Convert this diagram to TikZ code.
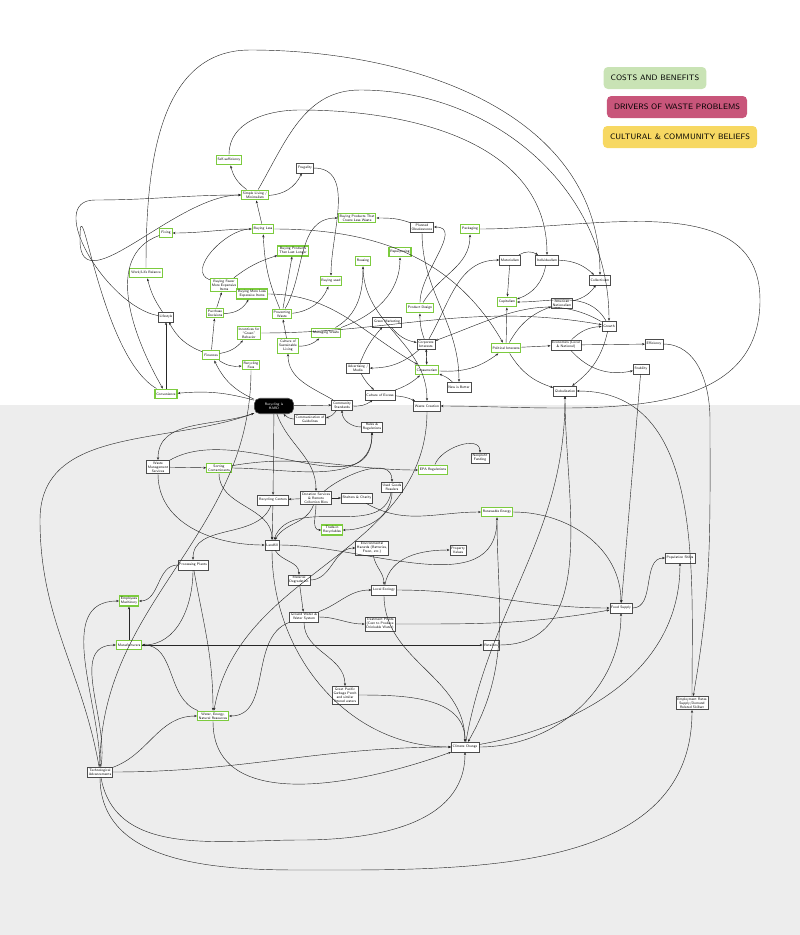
\documentclass[tikz,border=0pt]{standalone}
\usetikzlibrary{positioning, arrows.meta}
\definecolor{leafgreen}{HTML}{7CCB3E}
\definecolor{costfill}{HTML}{C9E3B5}
\definecolor{drivefill}{HTML}{C8557A}
\definecolor{beliefill}{HTML}{F7D862}
\definecolor{backgray}{HTML}{EDEDED}
\tikzset{
  box/.style={draw=black!70, fill=white, line width=0.4pt, inner sep=1pt, minimum height=7pt, align=center, font=\sffamily\fontsize{2.5}{2.9}\selectfont},
  greenbox/.style={box, draw=leafgreen, line width=0.8pt},
  legend/.style={rounded corners=3pt, inner xsep=5pt, minimum height=0.55cm, font=\sffamily\fontsize{5.6}{6}\selectfont},
  link/.style={-{Stealth[length=2pt,width=1.6pt]}, line width=0.3pt, black!85}
}
\begin{document}
\begin{tikzpicture}[x=0.025cm, y=-0.025cm]
  \useasboundingbox (0,0) rectangle (800,935);
  \fill[backgray] (0,405) rectangle (800,935);

  % legend
  \node[legend, fill=costfill] (costs) at (655,78) {COSTS AND BENEFITS};
  \node[legend, fill=drivefill] (drivers) at (677,107) {DRIVERS OF WASTE PROBLEMS};
  \node[legend, fill=beliefill] (beliefs) at (680,137) {CULTURAL \& COMMUNITY BELIEFS};

  % upper half
  \node[greenbox] (selfsuff) at (229,160) {Self-sufficiency};
  \node[box] (frugal) at (305,168) {Frugality};
  \node[greenbox] (simple) at (255,195) {Simple Living /\\Minimalism};
  \node[greenbox] (buyless) at (263,229) {Buying Less};
  \node[greenbox] (prodless) at (357,218) {Buying Products That\\Create Less Waste};
  \node[box] (planned) at (422,227) {Planned\\Obsolescence};
  \node[greenbox] (packaging) at (470,229) {Packaging};
  \node[greenbox] (fixing) at (166,233) {Fixing};
  \node[greenbox] (lastlonger) at (293,251) {Buying Products\\That Last Longer};
  \node[greenbox] (repurposing) at (400,252) {Repurposing};
  \node[box] (materialism) at (510,260) {Materialism};
  \node[box] (individualism) at (547,260) {Individualism};
  \node[greenbox] (reusing) at (363,261) {Reusing};
  \node[greenbox] (worklife) at (146,273) {Work/Life Balance};
  \node[box] (collectivism) at (600,280) {Collectivism};
  \node[greenbox] (buyused) at (331,281) {Buying used};
  \node[greenbox] (fewer) at (224,285) {Buying Fewer\\More Expensive\\Items};
  \node[greenbox] (moreless) at (252,294) {Buying More Less\\Expensive Items};
  \node[greenbox] (capitalism) at (507,302) {Capitalism};
  \node[box] (american) at (562,303) {American\\Nationalism};
  \node[greenbox] (purchase) at (215,313) {Purchase\\Decisions};
  \node[box] (lifestyle) at (166,317) {Lifestyle};
  \node[greenbox] (preventing) at (282,314) {Preventing\\Waste};
  \node[greenbox] (productdesign) at (420,308) {Product Design};
  \node[box] (greenmkt) at (387,322) {Green Marketing};
  \node[box] (growth) at (609,326) {Growth};
  \node[greenbox] (incentives) at (249,333) {Incentives for\\``Green''\\Behavior};
  \node[greenbox] (managing) at (326,333) {Managing Waste};
  \node[greenbox] (culture) at (288,346) {Culture of\\Sustainable\\Living};
  \node[box] (corporate) at (426,344) {Corporate\\Interests};
  \node[greenbox] (political) at (506,348) {Political Interests};
  \node[box] (economics) at (566,345) {Economics (Local\\\& National)};
  \node[box] (efficiency) at (654,344) {Efficiency};
  \node[greenbox] (finances) at (211,355) {Finances};
  \node[greenbox] (recfees) at (251,365) {Recycling\\Fees};
  \node[box] (advertising) at (358,368) {Advertising /\\Media};
  \node[greenbox] (consumerism) at (427,370) {Consumerism};
  \node[box] (stability) at (641,369) {Stability};
  \node[box] (newbetter) at (459,387) {New is Better};
  \node[box] (globalization) at (565,391) {Globalization};
  \node[greenbox] (convenience) at (166,394) {Convenience};
  \node[box] (excess) at (380,395) {Culture of Excess};
  \node[box, fill=black, text=white, rounded corners=4pt, minimum width=28pt, minimum height=11pt] (recycling) at (274,406) {Recycling is\\HARD};
  \node[box] (community) at (342,405) {Community\\Standards};
  \node[box] (wastecreation) at (427,406) {Waste Creation};
  \node[box] (communication) at (310,419) {Communication of\\Guidelines};

  % lower half
  \node[box] (rules) at (372,427) {Rules \&\\Regulations};
  \node[box] (nonprofit) at (480,458) {Nonprofit\\Funding};
  \node[box] (wms) at (158,467) {Waste\\Management\\Services};
  \node[greenbox] (sorting) at (219,468) {Sorting\\Contaminants};
  \node[greenbox] (epa) at (433,470) {EPA Regulations};
  \node[box] (usedgoods) at (392,487) {Used Goods\\Resalers};
  \node[box] (donation) at (316,498) {Donation Services\\\& Remote\\Collection Bins};
  \node[box] (shelters) at (357,498) {Shelters \& Charity};
  \node[box] (reccenters) at (273,500) {Recycling Centers};
  \node[greenbox] (renewable) at (497,512) {Renewable Energy};
  \node[greenbox] (tradein) at (332,530) {Trade-in\\Recyclables};
  \node[box] (landfill) at (272,545) {Landfill};
  \node[box] (hazards) at (372,548) {Environmental\\Hazards (Batteries,\\Freon, etc.)};
  \node[box] (property) at (458,550) {Property\\Values};
  \node[box] (processing) at (193,565) {Processing Plants};
  \node[box] (popshifts) at (680,558) {Population Shifts};
  \node[box] (degradation) at (299,580) {Material\\Degradation};
  \node[box] (localecology) at (384,590) {Local Ecology};
  \node[greenbox] (employees) at (129,601) {Employees\\Machinery};
  \node[box] (foodsupply) at (621,608) {Food Supply};
  \node[box] (groundwater) at (304,617) {Ground Water \&\\Water System};
  \node[box] (treatment) at (380,624) {Treatment Plants\\(Cost to Produce\\Drinkable Water)};
  \node[greenbox] (manufacturers) at (129,645) {Manufacturers};
  \node[box] (retailers) at (491,645) {Retailers};
  \node[box] (pacific) at (345,695) {Great Pacific\\Garbage Patch\\and similar\\littered waters};
  \node[box] (employment) at (692,703) {Employment Rates\\Supply/Demand\\Related Skillset};
  \node[greenbox] (resources) at (213,716) {Water, Energy,\\Natural Resources};
  \node[box] (climate) at (465,747) {Climate Change};
  \node[box] (tech) at (100,772) {Technological\\Advancements};

  % upper links
  \draw[link] (simple) to[bend left=20] (selfsuff);
  \draw[link] (simple) to[bend right=30] (frugal);
  \draw[link] (buyless) -- (simple);
  \draw[link] (preventing) to[bend left=10] (buyless);
  \draw[link] (preventing) -- (lastlonger);
  \draw[link] (preventing) to[bend right=30] (buyused);
  \draw[link] (preventing) to[out=60, in=180] (prodless);
  \draw[link] (fewer) to[bend left=10] (lastlonger);
  \draw[link] (fewer) to[out=160, in=180] (buyless);
  \draw[link] (purchase) -- (fewer);
  \draw[link] (purchase) to[bend right=30] (moreless);
  \draw[link] (lifestyle) to[bend left=10] (worklife);
  \draw[link] (convenience) -- (lifestyle);
  \draw[link] (finances) to[bend left=20] (lifestyle);
  \draw[link] (finances) -- (purchase);
  \draw[link] (finances) to[bend right=20] (incentives);
  \draw[link] (finances) to[bend right=20] (recfees);
  \draw[link] (recycling) to[bend left=20] (finances);
  \draw[link] (recycling) to[bend right=10] (convenience);
  \draw[link] (buyless) to[out=180, in=0] (fixing);
  \draw[link] (fixing) to[out=200, in=120] (convenience);
  \draw[link] (managing) to[out=30, in=270] (reusing);
  \draw[link] (managing) to[out=20, in=270] (repurposing);
  \draw[link] (culture) to[bend right=20] (managing);
  \draw[link] (culture) -- (preventing);
  \draw[link] (community) to[out=150, in=270] (culture);
  \draw[link] (recycling) -- (community);
  \draw[link] (community) to[bend left=20] (communication);
  \draw[link] (communication) to[bend left=20] (recycling);
  \draw[link] (community) to[bend right=20] (excess);
  \draw[link] (excess) to[bend right=10] (consumerism);
  \draw[link] (excess) to[bend left=10] (wastecreation);
  \draw[link] (advertising) to[bend right=10] (excess);
  \draw[link] (advertising) to[bend left=10] (greenmkt);
  \draw[link] (corporate) to[bend left=20] (advertising);
  \draw[link] (corporate) to[bend left=10] (productdesign);
  \draw[link] (corporate) -- (consumerism);
  \draw[link] (consumerism) -- (corporate);
  \draw[link] (greenmkt) to[bend right=20] (corporate);
  \draw[link] (productdesign) to[out=90, in=0] (planned);
  \draw[link] (productdesign) to[out=60, in=270] (packaging);
  \draw[link] (planned) to[out=160, in=0] (prodless);
  \draw[link] (planned) to[out=270, in=90] (newbetter);
  \draw[link] (consumerism) to[bend right=20] (political);
  \draw[link] (newbetter) to[bend right=10] (consumerism);
  \draw[link] (corporate) to[out=60, in=180] (materialism);
  \draw[link] (political) -- (capitalism);
  \draw[link] (materialism) -- (capitalism);
  \draw[link] (individualism) to[bend left=30] (capitalism);
  \draw[link] (materialism) to[bend left=30] (individualism);
  \draw[link] (individualism) to[bend left=20] (collectivism);
  \draw[link] (american) to[bend right=20] (collectivism);
  \draw[link] (political) to[bend left=20] (american);
  \draw[link] (political) -- (economics);
  \draw[link] (economics) to[bend left=20] (growth);
  \draw[link] (economics) -- (efficiency);
  \draw[link] (economics) to[bend right=30] (stability);
  \draw[link] (political) to[bend right=20] (globalization);
  \draw[link] (growth) to[bend left=20] (globalization);
  \draw[link] (growth) to[out=150, in=20] (corporate);
  \draw[link] (growth) to[out=120, in=0] (capitalism);
  \draw[link] (reusing) to[out=270, in=90] (wastecreation);
  \draw[link] (moreless) to[out=0, in=150] (consumerism);
  \draw[link] (buyless) to[out=0, in=120] (political);
  \draw[link] (incentives) to[out=0, in=170] (growth);

  % big loops
  \draw[link] (convenience) to[out=150, in=90] (80,240) to[out=270, in=180] (simple);
  \draw[link] (lifestyle) to[out=170, in=180] (95,200) to[out=0, in=180] (simple);
  \draw[link] (worklife) to[out=90, in=180] (250,50) to[out=0, in=90] (collectivism);
  \draw[link] (selfsuff) to[out=90, in=180] (300,110) to[out=0, in=90] (individualism);
  \draw[link] (simple) to[out=60, in=180] (360,90) to[out=0, in=90] (growth);
  \draw[link] (frugal) to[out=0, in=90] (buyused);
  \draw[link] (packaging) to[out=0, in=90] (760,300) to[out=270, in=0] (wastecreation);

  % lower links
  \draw[link] (recycling) to[out=200, in=90] (wms);
  \draw[link] (recycling) -- (reccenters);
  \draw[link] (recycling) to[out=290, in=90] (donation);
  \draw[link] (wms) -- (sorting);
  \draw[link] (sorting) to[out=270, in=90] (landfill);
  \draw[link] (wms) to[out=270, in=180] (landfill);
  \draw[link] (wms) to[out=30, in=270] (rules);
  \draw[link] (sorting) to[out=0, in=270] (rules);
  \draw[link] (sorting) to[out=10, in=180] (epa);
  \draw[link] (epa) to[out=70, in=90] (nonprofit);
  \draw[link] (rules) to[out=180, in=270] (community);
  \draw[link] (donation) -- (reccenters);
  \draw[link] (donation) -- (shelters);
  \draw[link] (donation) to[out=270, in=180] (tradein);
  \draw[link] (donation) to[out=250, in=60] (landfill);
  \draw[link] (donation) to[out=40, in=90] (usedgoods);
  \draw[link] (usedgoods) to[out=270, in=0] (tradein);
  \draw[link] (usedgoods) to[out=260, in=70] (landfill);
  \draw[link] (shelters) to[out=330, in=180] (renewable);
  \draw[link] (reccenters) -- (landfill);
  \draw[link] (reccenters) to[out=250, in=90] (processing);
  \draw[link] (landfill) to[out=300, in=90] (degradation);
  \draw[link] (landfill) to[out=0, in=270] (renewable);
  \draw[link] (degradation) to[out=0, in=180] (hazards);
  \draw[link] (hazards) to[out=280, in=90] (localecology);
  \draw[link] (degradation) -- (groundwater);
  \draw[link] (groundwater) to[out=20, in=180] (localecology);
  \draw[link] (groundwater) to[out=0, in=180] (treatment);
  \draw[link] (groundwater) to[out=270, in=90] (pacific);
  \draw[link] (groundwater) to[out=200, in=0] (resources);
  \draw[link] (localecology) to[out=80, in=180] (property);
  \draw[link] (localecology) to[out=0, in=180] (foodsupply);
  \draw[link] (localecology) to[out=270, in=90] (climate);
  \draw[link] (treatment) to[out=0, in=190] (foodsupply);
  \draw[link] (manufacturers) -- (retailers);
  \draw[link] (retailers) to[out=0, in=270] (globalization);
  \draw[link] (processing) to[out=180, in=0] (employees);
  \draw[link] (processing) to[out=270, in=0] (manufacturers);
  \draw[link] (processing) to[out=280, in=90] (resources);
  \draw[link] (manufacturers) -- (employees);
  \draw[link] (resources) to[out=160, in=0] (manufacturers);
  \draw[link] (tech) to[out=90, in=180] (employees);
  \draw[link] (tech) to[out=80, in=180] (manufacturers);
  \draw[link] (tech) to[out=20, in=180] (resources);
  \draw[link] (tech) to[out=0, in=180] (climate);
  \draw[link] (climate) to[out=0, in=270] (foodsupply);
  \draw[link] (foodsupply) to[out=0, in=180] (popshifts);
  \draw[link] (climate) to[out=10, in=270] (popshifts);
  \draw[link] (pacific) to[out=0, in=90] (climate);
  \draw[link] (landfill) to[out=270, in=180] (climate);
  \draw[link] (resources) to[out=270, in=200] (climate);
  \draw[link] (renewable) to[out=270, in=60] (climate);
  \draw[link] (renewable) to[out=0, in=90] (foodsupply);
  \draw[link] (stability) -- (foodsupply);
  \draw[link] (employment) to[out=90, in=0] (globalization);
  \draw[link] (tech) to[out=270, in=180] (300,870) to[out=0, in=270] (employment);
  \draw[link] (tech) to[out=280, in=180] (300,840) to[out=0, in=270] (climate);
  \draw[link] (tech) to[out=100, in=270] (40,520) to[out=90, in=200] (recycling);
  \draw[link] (climate) to[out=80, in=270] (globalization);
  \draw[link] (wastecreation) to[out=270, in=80] (resources);
  \draw[link] (recfees) to[out=270, in=90] (tech);
  \draw[link] (efficiency) to[out=0, in=90] (710,420) to[out=270, in=80] (employment);
\end{tikzpicture}
\end{document}
